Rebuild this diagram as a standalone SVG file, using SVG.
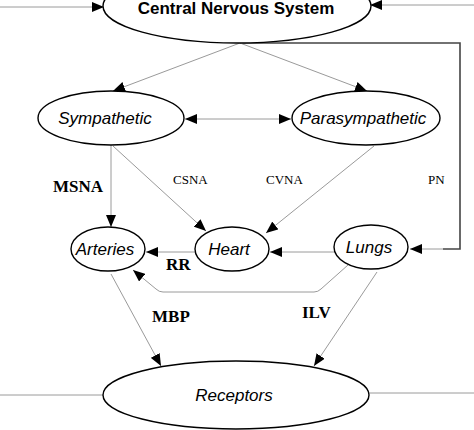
<svg xmlns="http://www.w3.org/2000/svg" width="474" height="430" viewBox="0 0 474 430">
<defs>
<marker id="ah" markerUnits="userSpaceOnUse" markerWidth="14" markerHeight="10" refX="12" refY="5" orient="auto">
<path d="M0,0 L12,5 L0,10 Z" fill="#000"/>
</marker>
<marker id="ahs" markerUnits="userSpaceOnUse" markerWidth="14" markerHeight="10" refX="12" refY="5" orient="auto-start-reverse">
<path d="M0,0 L12,5 L0,10 Z" fill="#000"/>
</marker>
<style>
.node{fill:#fff;stroke:#000;stroke-width:1.4}
.nt{font-family:"Liberation Sans",Arial,sans-serif;font-style:italic;font-size:17px;text-anchor:middle}
.bt{font-family:"Liberation Sans",Arial,sans-serif;font-weight:bold;font-size:17px;text-anchor:middle}
.c{fill:none;stroke:#9a9a9a;stroke-width:1}
.d{fill:none;stroke:#444;stroke-width:1.6}
.lb{font-family:"Liberation Serif","Times New Roman",serif;font-weight:bold;font-size:17px}
.ls{font-family:"Liberation Serif","Times New Roman",serif;font-size:13px}
</style>
</defs>
<rect width="474" height="430" fill="#fff"/>
<g id="connectors">
<line class="c" x1="0" y1="7" x2="104" y2="7" marker-end="url(#ah)"/>
<line class="c" x1="474" y1="5" x2="370" y2="5" marker-end="url(#ah)"/>
<polyline class="d" points="240,43 460,43 460,249 443,249"/>
<line class="c" x1="443" y1="249" x2="410" y2="249" marker-end="url(#ah)"/>
<line class="c" x1="240" y1="43" x2="113" y2="91" marker-end="url(#ah)"/>
<line class="c" x1="240" y1="43" x2="367" y2="91" marker-end="url(#ah)"/>
<line class="c" x1="185" y1="119" x2="291" y2="119" marker-start="url(#ahs)" marker-end="url(#ah)"/>
<line class="c" x1="111" y1="145" x2="111" y2="227" marker-end="url(#ah)"/>
<line class="c" x1="113" y1="146" x2="206" y2="231" marker-end="url(#ah)"/>
<line class="c" x1="374" y1="146" x2="266" y2="233" marker-end="url(#ah)"/>
<line class="c" x1="196" y1="252" x2="146" y2="252" marker-end="url(#ah)"/>
<line class="c" x1="334" y1="252" x2="270" y2="252" marker-end="url(#ah)"/>
<path class="c" d="M348,265 L321,289 Q318,292 314,292 L163,292 Q159,292 156,289 L133,270" marker-end="url(#ah)"/>
<line class="c" x1="111" y1="274" x2="161" y2="366" marker-end="url(#ah)"/>
<line class="c" x1="377" y1="272" x2="314" y2="366" marker-end="url(#ah)"/>
<line class="c" x1="0" y1="395" x2="103" y2="395"/>
<line class="c" x1="369" y1="393" x2="474" y2="393"/>
</g>
<g id="cns">
<ellipse class="node" cx="237" cy="6" rx="134" ry="37"/>
<text class="bt" x="236" y="14">Central Nervous System</text>
</g>
<g id="sympathetic">
<ellipse class="node" cx="111" cy="118" rx="73" ry="27"/>
<text class="nt" x="105" y="124">Sympathetic</text>
</g>
<g id="parasympathetic">
<ellipse class="node" cx="366" cy="118" rx="74" ry="27"/>
<text class="nt" x="363" y="124">Parasympathetic</text>
</g>
<g id="arteries">
<ellipse class="node" cx="108" cy="249" rx="37" ry="22"/>
<text class="nt" x="105" y="255">Arteries</text>
</g>
<g id="heart">
<ellipse class="node" cx="232" cy="249" rx="37" ry="22"/>
<text class="nt" x="229" y="255">Heart</text>
</g>
<g id="lungs">
<ellipse class="node" cx="371" cy="247" rx="37" ry="22"/>
<text class="nt" x="369" y="253">Lungs</text>
</g>
<g id="receptors">
<ellipse class="node" cx="236" cy="395" rx="133" ry="34"/>
<text class="nt" x="234" y="401">Receptors</text>
</g>
<g id="labels">
<text class="lb" x="53" y="192">MSNA</text>
<text class="ls" x="173" y="184">CSNA</text>
<text class="ls" x="266" y="184">CVNA</text>
<text class="ls" x="428" y="184">PN</text>
<text class="lb" x="166" y="270">RR</text>
<text class="lb" x="152" y="322">MBP</text>
<text class="lb" x="302" y="318">ILV</text>
</g>
</svg>
